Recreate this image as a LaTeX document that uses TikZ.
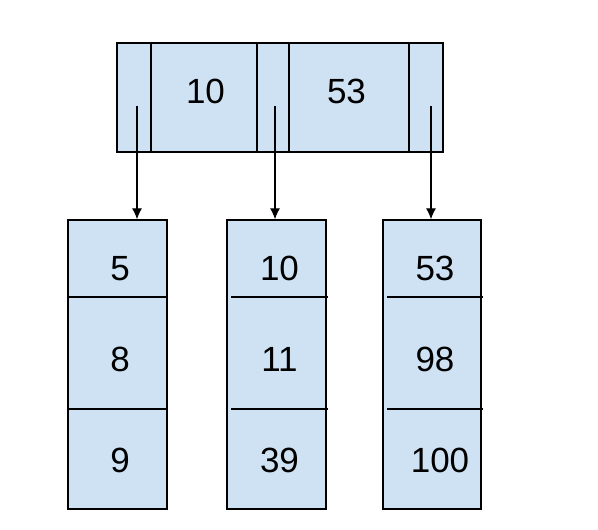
\documentclass[tikz,border=0pt]{standalone}
\usepackage{fontspec}
\setmainfont{Liberation Sans}
\usetikzlibrary{arrows.meta}
\definecolor{cellblue}{HTML}{CFE2F3}
\tikzset{
  cell/.style={draw=black, fill=cellblue, line width=1.3pt, inner sep=0pt},
  rootcell/.style={cell, minimum height=109pt},
  leaf/.style={cell, minimum height=289pt},
  key/.style={font=\fontsize{35}{35}\selectfont, inner sep=0pt},
  sep/.style={line width=1.3pt},
  ptr/.style={-{Latex[length=11pt,width=10pt]}, line width=1.2pt}
}
\begin{document}
\begin{tikzpicture}[x=1pt,y=-1pt]
            \useasboundingbox (0,0) rectangle (598,530);

            % root node
            \node[rootcell, minimum width=34pt] (p0) at (134,97.5) {};
            \node[rootcell, minimum width=106pt] (k1) at (204,97.5) {};
            \node[rootcell, minimum width=32pt] (p1) at (273,97.5) {};
            \node[rootcell, minimum width=120pt] (k2) at (349,97.5) {};
            \node[rootcell, minimum width=34pt] (p2) at (426,97.5) {};
            \node[key] (r1) at (205.5,91) {10};
            \node[key] (r2) at (346.5,91) {53};

            % leaves
            \node[leaf, minimum width=99pt] (b1) at (117.5,364.5) {};
            \node[leaf, minimum width=99pt] (b2) at (276.5,364.5) {};
            \node[leaf, minimum width=98pt] (b3) at (432,364.5) {};

            \draw[sep] (68,297) -- (167,297);
            \draw[sep] (68,409) -- (167,409);
            \draw[sep] (231,297) -- (328,297);
            \draw[sep] (231,409) -- (328,409);
            \draw[sep] (387,297) -- (483,297);
            \draw[sep] (387,409) -- (483,409);

            \node[key] (a1) at (120,268.5) {5};
            \node[key] (a2) at (120,359) {8};
            \node[key] (a3) at (120,460) {9};
            \node[key] (c1) at (279.5,268.5) {10};
            \node[key] (c2) at (279.5,359) {11};
            \node[key] (c3) at (279.5,460) {39};
            \node[key] (d1) at (435,268.5) {53};
            \node[key] (d2) at (435,359) {98};
            \node[key] (d3) at (440,460) {100};

            % pointers
            \coordinate (s0) at (137,106);
            \coordinate (s1) at (275,106);
            \coordinate (s2) at (431,106);
            \draw[ptr] (s0) -- (s0 |- b1.north);
            \draw[ptr] (s1) -- (s1 |- b2.north);
            \draw[ptr] (s2) -- (s2 |- b3.north);
\end{tikzpicture}
\end{document}
